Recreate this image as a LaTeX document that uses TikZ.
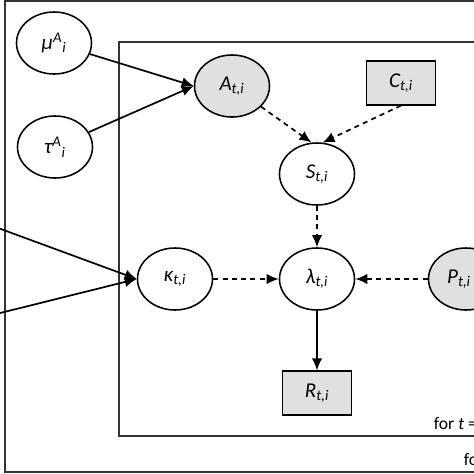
\documentclass[tikz,border=0pt]{standalone}
\usepackage{fontspec}
\setmainfont{Carlito}
\usetikzlibrary{arrows.meta, positioning, shapes}

\begin{document}
\begin{tikzpicture}[
    x=0.025cm, y=-0.025cm,
    font=\fontsize{15}{17}\selectfont\itshape,
    latent/.style={ellipse, minimum width=1.875cm, minimum height=1.55cm, inner sep=0pt, draw=black, line width=1.1pt, fill=white},
    observed/.style={latent, fill=black!12},
    fixed/.style={rectangle, minimum width=1.725cm, minimum height=1.09cm, inner sep=0pt, draw=black, line width=1.1pt, fill=black!12},
    arrow/.style={-{Latex[length=3mm, width=2.6mm]}, line width=1.2pt},
    darrow/.style={arrow, dash pattern=on 3.6pt off 3pt}
]

\useasboundingbox (0,0) rectangle (474,474);
\clip (0,0) rectangle (474,474);

% plates
\draw[line width=1pt, black!80] (5,1) rectangle (540,472);
\draw[line width=1pt, black!80] (119,42) rectangle (540,436);
\node[anchor=base west, font=\fontsize{12.5}{14}\selectfont] (fort) at (429,429) {for \textit{t} = 1, \dots, \textit{T}};
\node[anchor=base west, font=\fontsize{12.5}{14}\selectfont] (fori) at (459,465) {for \textit{i} = 1, \dots, \textit{N}};

% hyperparameters
\node[latent] (mu) at (54,43) {μ\textsuperscript{A}\textsubscript{i}};
\node[latent] (tau) at (55,147) {τ\textsuperscript{A}\textsubscript{i}};
\coordinate (kin1) at (-40,214);
\coordinate (kin2) at (-40,323);

% inner plate
\node[observed] (A) at (232,86) {A\textsubscript{t,i}};
\node[fixed] (C) at (401,83) {C\textsubscript{t,i}};
\node[latent] (S) at (317,174) {S\textsubscript{t,i}};
\node[latent] (kappa) at (175,279) {κ\textsubscript{t,i}};
\node[latent] (lambda) at (317,279) {λ\textsubscript{t,i}};
\node[observed] (P) at (466,279) {\hspace{-10pt}P\textsubscript{t,i}};
\node[fixed] (R) at (317,393) {R\textsubscript{t,i}};

\draw[arrow] (mu) -- (A.west);
\draw[arrow] (tau) -- (A.west);
\draw[arrow] (kin1) -- (kappa.west);
\draw[arrow] (kin2) -- (kappa.west);

\draw[darrow] (A) -- (S.100);
\draw[darrow] (C.south) -- (S.80);
\draw[darrow] (S) -- (lambda);
\draw[darrow] (kappa) -- (lambda);
\draw[darrow] (P) -- (lambda);
\draw[arrow] (lambda) -- (R);

\end{tikzpicture}
\end{document}
